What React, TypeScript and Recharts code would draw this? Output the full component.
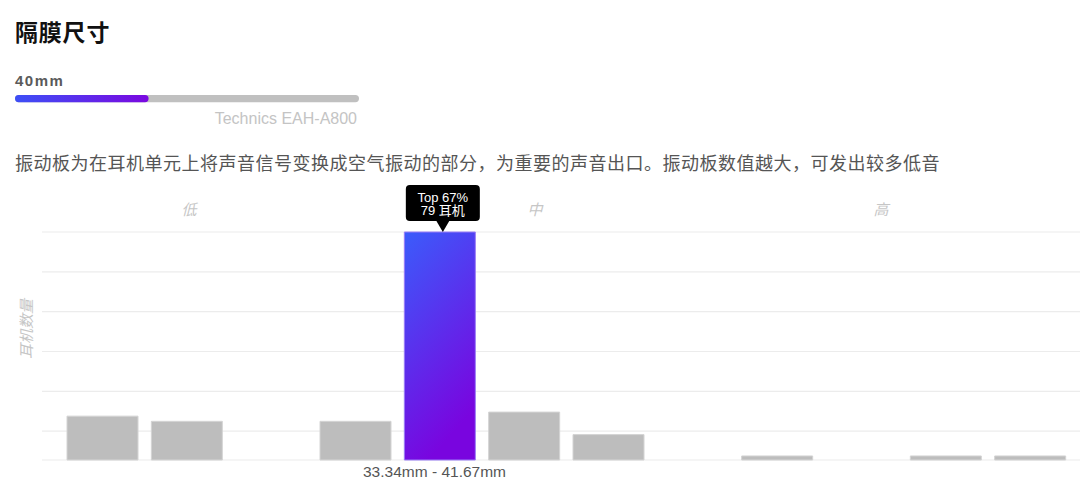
import React from "react";
import { BarChart, Bar, XAxis, YAxis, CartesianGrid, Cell, LabelList } from "recharts";

const FONT = '"Liberation Sans", "Noto Sans CJK SC", sans-serif';

// header / progress values
const productName = "Technics EAH-A800";
const sizeLabel = "40mm";
const sizeValue = [{ name: "size", value: 40 }];
const sizeMax = 103;

// histogram bins
const groupLabels = ["低", "中", "高"];
const binsPerGroup = 4;
const rangeLabels = [
  "0.00mm - 8.33mm", "8.34mm - 16.67mm", "16.67mm - 25.00mm", "25.01mm - 33.33mm",
  "33.34mm - 41.67mm", "41.67mm - 50.00mm", "50.01mm - 58.33mm", "58.34mm - 66.67mm",
  "66.67mm - 75.00mm", "75.01mm - 83.33mm", "83.34mm - 91.67mm", "91.67mm - 100.00mm",
];
const counts = [15.2, 13.4, 0, 13.4, 79, 16.6, 8.8, 0, 1.4, 0, 1.4, 1.4];
const gridTicks = [10, 23.8, 37.6, 51.4, 65.2, 79];
const activeIndex = 4;
const activeRank = "Top 67%";
const activeCount = "79 耳机";

const data = rangeLabels.map((range, i) => ({
  range,
  group: groupLabels[Math.floor(i / binsPerGroup)],
  count: counts[i],
  tip: i === activeIndex ? activeRank : null,
}));

function GroupTick(props: any) {
  const { x, y, payload } = props;
  return (
    <text x={x - 26} y={y - 9} textAnchor="middle" fontSize={15} fontStyle="italic"
      fill="#c6c6c6" fontFamily={FONT}>
      {payload.value}
    </text>
  );
}

function RangeTick(props: any) {
  const { x, y, payload, index } = props;
  if (index !== activeIndex) return null;
  return (
    <text x={x - 5} y={y + 9} textAnchor="middle" fontSize={15.5} fill="#555" fontFamily={FONT}>
      {payload.value}
    </text>
  );
}

function Bubble(props: any) {
  const { x, y, width, value } = props;
  if (!value) return null;
  const cx = x + width / 2 + 3;
  return (
    <g>
      <rect x={cx - 37} y={y - 47} width={74} height={36} rx={4} fill="#000" />
      <path d={`M${cx - 7},${y - 12} L${cx + 7},${y - 12} L${cx},${y} Z`} fill="#000" />
      <text x={cx} y={y - 30.5} textAnchor="middle" fontSize={13} fill="#fff" fontFamily={FONT}>
        {value}
      </text>
      <text x={cx} y={y - 17.5} textAnchor="middle" fontSize={13} fill="#fff" fontFamily={FONT}>
        {activeCount}
      </text>
    </g>
  );
}

function AxisTitle(props: any) {
  const vb = props.viewBox;
  const x = vb.x + vb.width / 2 + 5;
  const y = vb.y + vb.height / 2 - 17;
  return (
    <text transform={`translate(${x},${y}) rotate(-90)`} textAnchor="middle" dominantBaseline="central"
      fontSize={15} fontStyle="italic" fill="#c6c6c6" fontFamily={FONT}>
      耳机数量
    </text>
  );
}

const NoTick = () => <g />;

export default function App() {
  return (
    <div style={{ position: "absolute", left: 0, top: 0, width: 1080, height: 484, background: "#fff", fontFamily: FONT, overflow: "hidden" }}>
      <div style={{ position: "absolute", left: 15, top: 22, fontSize: 23, lineHeight: "23px", fontWeight: 700, color: "#111", letterSpacing: 0.8 }}>
        隔膜尺寸
      </div>
      <div style={{ position: "absolute", left: 15, top: 73, fontSize: 15, lineHeight: "15px", fontWeight: 700, color: "#5a5a5a", letterSpacing: 1.5 }}>
        {sizeLabel}
      </div>
      <div style={{ position: "absolute", left: 15, top: 95 }}>
        <BarChart width={344} height={8} data={sizeValue} layout="vertical" margin={{ top: 0, right: 0, bottom: 0, left: 0 }}>
          <defs>
            <linearGradient id="progGrad" x1="0" y1="0" x2="1" y2="0">
              <stop offset="0%" stopColor="#3d4ff6" />
              <stop offset="100%" stopColor="#7a08e0" />
            </linearGradient>
          </defs>
          <XAxis type="number" domain={[0, sizeMax]} hide />
          <YAxis type="category" dataKey="name" hide />
          <Bar dataKey="value" fill="url(#progGrad)" barSize={8} radius={4}
            background={{ fill: "#c0c0c0", radius: 4 } as any} isAnimationActive={false} />
        </BarChart>
      </div>
      <div style={{ position: "absolute", left: 15, width: 342, top: 111, fontSize: 16, lineHeight: "16px", color: "#c4c4c4", textAlign: "right" }}>
        {productName}
      </div>
      <div style={{ position: "absolute", left: 15, top: 155, fontSize: 18, lineHeight: "18px", color: "#555", letterSpacing: 0.5, whiteSpace: "nowrap" }}>
        振动板为在耳机单元上将声音信号变换成空气振动的部分，为重要的声音出口。振动板数值越大，可发出较多低音
      </div>
      <div style={{ position: "absolute", left: 0, top: 184 }}>
        <BarChart width={1080} height={300} data={data} margin={{ top: 0, right: 0, bottom: 0, left: 0 }}>
          <defs>
            <linearGradient id="barGrad" x1="0" y1="0" x2="0.35" y2="1">
              <stop offset="0%" stopColor="#3b5cfb" />
              <stop offset="100%" stopColor="#7905df" />
            </linearGradient>
          </defs>
          <CartesianGrid vertical={false} stroke="#ececec" strokeWidth={1.2} />
          <XAxis xAxisId="group" orientation="top" dataKey="group" allowDuplicatedCategory={false}
            height={48} axisLine={false} tickLine={false} interval={0} tick={<GroupTick />} />
          <XAxis xAxisId="bins" dataKey="range" interval={0} padding={{ left: 18, right: 8 }}
            height={24} axisLine={false} tickLine={false} tick={<RangeTick />} />
          <YAxis width={42} domain={[0, 79]} ticks={gridTicks} interval={0} tick={<NoTick />}
            axisLine={false} tickLine={false} label={{ content: <AxisTitle /> } as any} />
          <Bar xAxisId="bins" dataKey="count" barSize={71} isAnimationActive={false}>
            {data.map((_, i) => (
              <Cell key={i}
                fill={i === activeIndex ? "url(#barGrad)" : "#bdbdbd"}
                stroke={i === activeIndex ? "#9a7ef6" : "#d4d4d4"}
                strokeWidth={1} />
            ))}
            <LabelList dataKey="tip" content={<Bubble />} />
          </Bar>
        </BarChart>
      </div>
    </div>
  );
}
